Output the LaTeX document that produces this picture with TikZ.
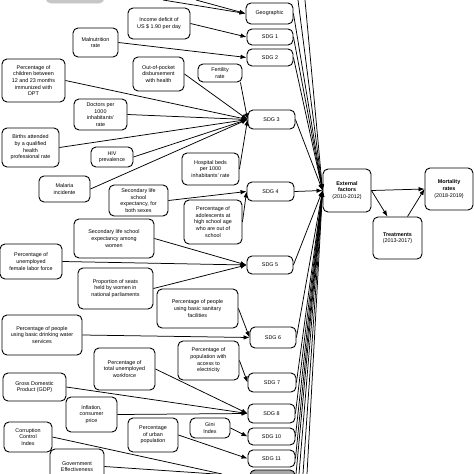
\documentclass[tikz,border=0pt]{standalone}
\usepackage{fontspec}
\setmainfont{Liberation Sans}
\usetikzlibrary{arrows.meta}
\newcommand{\bxfont}{\fontsize{5.4}{6.6}\selectfont}
\newcommand{\bx}[6]{\node[box, minimum width=#4pt, minimum height=#5pt] (#1) at (#2,#3) {#6};}
\tikzset{
 box/.style={draw, fill=white, rounded corners=5pt, line width=0.9pt, align=center, font=\bxfont, inner sep=0.5pt},
 lk/.style={-{Latex[length=6pt,width=4.5pt]}, line width=0.75pt},
 ln/.style={line width=0.75pt},
}
\begin{document}
\begin{tikzpicture}[x=1pt,y=-1pt]
\useasboundingbox (0,0) rectangle (474,474);
\clip (0,0) rectangle (474,474);
% cut-off nodes
\node[box, fill=gray!45, draw=gray!45, minimum width=58pt, minimum height=33pt] (topbox) at (75,-13.5) {};
\node[box, fill=gray!70, minimum width=45pt, minimum height=20pt] (sdgnext) at (272.5,480) {};
% leaves
\bx{malnut}{95.5}{42.5}{45}{29}{Malnutrition\\rate}
\bx{dpt}{33.5}{80.5}{63}{43}{Percentage of\\children between\\12 and 23 months\\immunized with\\DPT}
\bx{doctors}{100.5}{114.5}{53}{31}{Doctors per\\1000\\inhabitants'\\rate}
\bx{income}{159}{23.5}{62}{31}{Income deficit of\\US \$ 1.90 per day}
\bx{oop}{158.5}{74}{51}{34}{Out-of-pocket\\disbursement\\with health}
\bx{fert}{220}{73}{44}{18}{Fertility\\rate}
\bx{births}{30.5}{147.5}{57}{39}{Births attended\\by a qualified\\health\\professional rate}
\bx{hiv}{112}{157}{42}{20}{HIV\\prevalence}
\bx{malaria}{64.5}{189}{51}{26}{Malaria\\incidente}
\bx{hosp}{210.5}{169}{57}{32}{Hospital beds\\per 1000\\inhabitants' rate}
\bx{sec}{138.5}{200.5}{59}{31}{Secondary life\\school\\expectancy, for\\both sexes}
\bx{adol}{213}{222}{58}{44}{Percentage of\\adolescents at\\high school age\\who are out of\\school}
\bx{women}{114}{238.5}{80}{39}{Secondary life school\\expectancy among\\women}
\bx{unfem}{31}{261.5}{62}{35}{Percentage of\\unemployed\\female labor force}
\bx{seats}{115.5}{288.5}{75}{41}{Proportion of seats\\held by women in\\national parliaments}
\bx{sanit}{197.5}{308.5}{81}{39}{Percentage of people\\using basic sanitary\\facilities}
\bx{water}{42}{335}{80}{40}{Percentage of people\\using basic drinking water\\services}
\bx{totun}{124.5}{369}{61}{42}{Percentage of\\total unemployed\\workforce}
\bx{elec}{208.5}{360.5}{61}{39}{Percentage of\\population with\\access to\\electricity}
\bx{gdp}{34.5}{387}{63}{28}{Gross Domestic\\Product (GDP)}
\bx{infl}{91.5}{414.5}{51}{35}{Inflation,\\consumer\\price}
\bx{urban}{153}{435}{50}{34}{Percentage\\of urban\\population}
\bx{corr}{28}{437}{48}{30}{Corruption\\Control\\Index}
\bx{gov}{77}{466.5}{54}{35}{Government\\Effectiveness}
\bx{gini}{210}{428}{40}{20}{Gini\\Index}
% SDG column
\bx{geo}{269.5}{13.5}{47}{21}{Geographic}
\bx{sdg1}{270}{37}{46}{16}{SDG 1}
\bx{sdg2}{270}{57.5}{46}{17}{SDG 2}
\bx{sdg3}{271.5}{119.5}{47}{19}{SDG 3}
\bx{sdg4}{270.5}{191.5}{47}{19}{SDG 4}
\bx{sdg5}{270}{265}{46}{18}{SDG 5}
\bx{sdg6}{273}{337.5}{46}{21}{SDG 6}
\bx{sdg7}{272}{382.5}{48}{19}{SDG 7}
\bx{sdg8}{271.5}{413.5}{47}{19}{SDG 8}
\bx{sdg10}{271.5}{436.5}{47}{17}{SDG 10}
\bx{sdg11}{271.5}{458.5}{47}{17}{SDG 11}
% right side
\bx{ext}{347}{190.5}{48}{43}{\textbf{External}\\\textbf{factors}\\(2010-2012)}
\bx{mort}{449}{189}{48}{42}{\textbf{Mortality}\\\textbf{rates}\\(2018-2019)}
\bx{treat}{397.5}{238}{49}{42}{\textbf{Treatments}\\(2013-2017)}
% free ends
\coordinate (topA) at (163,0);
\coordinate (topB) at (196,0);
\coordinate (topC) at (298,0);
\coordinate (topD) at (305,0);
\coordinate (botA) at (299,474);
\coordinate (botB) at (303,474);
\coordinate (botC) at (307,474);
\coordinate (botD) at (222,474);
\coordinate (botE) at (245,476);
% leaves -> SDGs
\draw[lk] (topA) -- (geo.west);
\draw[lk] (topB) -- (geo.west);
\draw[lk] (income.east) -- (sdg1.west);
\draw[lk] (malnut.east) -- (sdg2.west);
\foreach \n in {dpt,doctors,births,hiv,malaria,oop,hosp}
  \draw[lk] (\n.east) -- (sdg3.west);
\draw[lk] ([xshift=-2pt]fert.south east) -- (sdg3.west);
\draw[lk] (sec.east) -- (sdg4.west);
\draw[lk] (adol.east) -- (sdg4.west);
\foreach \n in {women,unfem,seats}
  \draw[lk] (\n.east) -- (sdg5.west);
\draw[lk] (sanit.east) -- (sdg6.west);
\draw[lk] (water.east) -- (sdg6.west);
\draw[lk] (elec.east) -- (sdg7.west);
\foreach \n in {totun,gdp,infl}
  \draw[lk] (\n.east) -- (sdg8.west);
\draw[lk] (gini.east) -- (sdg10.west);
\draw[lk] (urban.east) -- (sdg11.west);
\draw[ln] (corr.east) -- (botD);
\draw[ln] (gov.east) -- (botE);
% SDGs -> external factors
\foreach \n in {geo,sdg1,sdg2,sdg3,sdg4,sdg5,sdg6,sdg7,sdg8,sdg10,sdg11,sdgnext}
  \draw[lk] (\n.east) -- (ext.west);
\foreach \n in {topC,topD,botA,botB,botC}
  \draw[lk] (\n) -- (ext.west);
% right part
\draw[lk] (ext.east) -- (mort.west);
\draw[lk] (ext.east) -- (treat.115);
\draw[lk] (treat.65) -- (mort.west);
\end{tikzpicture}
\end{document}
